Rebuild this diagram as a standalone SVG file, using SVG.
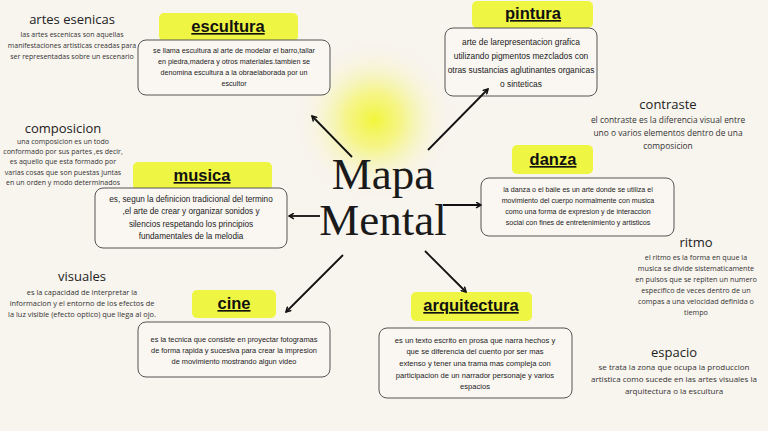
<svg xmlns="http://www.w3.org/2000/svg" width="768" height="431" viewBox="0 0 768 431">
<defs>
<radialGradient id="glow" cx="0.5" cy="0.5" r="0.5">
<stop offset="0" stop-color="#f3f53a" stop-opacity="1"/>
<stop offset="0.35" stop-color="#f4f56a" stop-opacity="0.75"/>
<stop offset="0.7" stop-color="#f6f5b0" stop-opacity="0.3"/>
<stop offset="1" stop-color="#f8f4ee" stop-opacity="0"/>
</radialGradient>
<marker id="ah" viewBox="0 0 10 10" refX="8" refY="5" markerWidth="7" markerHeight="7" orient="auto" markerUnits="userSpaceOnUse">
<path d="M1,1 L8,5 L1,9" fill="none" stroke="#111" stroke-width="2.2" stroke-linejoin="miter"/>
</marker>
</defs>
<style>
.lab{fill:#eff543}
.box{fill:#faf7f3;stroke:#555;stroke-width:1}
.lt{font-family:"Liberation Sans",Arial,sans-serif;font-weight:bold;font-size:16.5px;fill:#111;text-anchor:middle;text-decoration:underline}
.bt{font-family:"Liberation Sans",Arial,sans-serif;fill:#1a1a1a;text-anchor:middle}
.ht{font-family:"Open Sans",sans-serif;font-size:13px;fill:#222;text-anchor:middle}
.ft{font-family:"Open Sans",sans-serif;fill:#333;text-anchor:middle}
.con{stroke:#111;stroke-width:1.8;fill:none}
</style>
<rect width="768" height="431" fill="#f8f4ee"/>
<circle cx="374" cy="120" r="80" fill="url(#glow)"/>

<g id="title">
<text x="383" y="189" font-family="'Liberation Serif','Times New Roman',serif" font-size="45" fill="#1a1a1a" text-anchor="middle">Mapa</text>
<text x="383" y="235" font-family="'Liberation Serif','Times New Roman',serif" font-size="45" fill="#1a1a1a" text-anchor="middle">Mental</text>
</g>

<g id="escultura">
<rect class="lab" x="159" y="13" width="139" height="28" rx="5"/>
<text class="lt" x="228" y="32">escultura</text>
<rect class="box" x="138" y="40" width="192" height="55" rx="8"/>
<text class="bt" font-size="7.2" x="234" y="53">se llama escultura al arte de modelar el barro,tallar</text>
<text class="bt" font-size="7.2" x="234" y="64">en piedra,madera y otros materiales.tambien se</text>
<text class="bt" font-size="7.2" x="234" y="75">denomina escultura a la obraelaborada por un</text>
<text class="bt" font-size="7.2" x="234" y="86">escultor</text>
</g>

<g id="pintura">
<rect class="lab" x="472" y="1" width="121" height="27" rx="5"/>
<text class="lt" x="533" y="19">pintura</text>
<rect class="box" x="445" y="28" width="152" height="68" rx="8"/>
<text class="bt" font-size="8.4" x="521" y="45">arte de larepresentacion grafica</text>
<text class="bt" font-size="8.4" x="521" y="59">utilizando pigmentos mezclados con</text>
<text class="bt" font-size="8.4" x="521" y="73">otras sustancias aglutinantes organicas</text>
<text class="bt" font-size="8.4" x="521" y="87">o sinteticas</text>
</g>

<g id="musica">
<rect class="lab" x="133" y="162" width="139" height="28" rx="5"/>
<text class="lt" x="202" y="181">musica</text>
<rect class="box" x="95" y="188" width="192" height="60" rx="8"/>
<text class="bt" font-size="8.2" x="191" y="202">es, segun la definicion tradicional del termino</text>
<text class="bt" font-size="8.2" x="191" y="214">,el arte de crear y organizar sonidos y</text>
<text class="bt" font-size="8.2" x="191" y="227">silencios respetando los principios</text>
<text class="bt" font-size="8.2" x="191" y="239">fundamentales de la melodia</text>
</g>

<g id="danza">
<rect class="lab" x="512" y="145" width="81" height="29" rx="5"/>
<text class="lt" x="553" y="165">danza</text>
<rect class="box" x="481" y="178" width="193" height="58" rx="8"/>
<text class="bt" font-size="7.1" x="578" y="192">la danza o el baile es un arte donde se utiliza el</text>
<text class="bt" font-size="7.1" x="578" y="203">movimiento del cuerpo normalmente con musica</text>
<text class="bt" font-size="7.1" x="578" y="214">como una forma de expresion y de interaccion</text>
<text class="bt" font-size="7.1" x="578" y="225">social con fines de entretenimiento y artisticos</text>
</g>

<g id="cine">
<rect class="lab" x="192" y="290" width="84" height="28" rx="5"/>
<text class="lt" x="234" y="309">cine</text>
<rect class="box" x="138" y="322" width="192" height="55" rx="8"/>
<text class="bt" font-size="7.4" x="234" y="342">es la tecnica que consiste en proyectar fotogramas</text>
<text class="bt" font-size="7.4" x="234" y="353">de forma rapida y sucesiva para crear la impresion</text>
<text class="bt" font-size="7.4" x="234" y="364">de movimiento mostrando algun video</text>
</g>

<g id="arquitectura">
<rect class="lab" x="411" y="292" width="121" height="29" rx="5"/>
<text class="lt" x="471" y="311">arquitectura</text>
<rect class="box" x="379" y="328" width="193" height="70" rx="8"/>
<text class="bt" font-size="7.6" x="475" y="343">es un texto escrito en prosa que narra hechos y</text>
<text class="bt" font-size="7.6" x="475" y="354">que se diferencia del cuento por ser mas</text>
<text class="bt" font-size="7.6" x="475" y="366">extenso y tener una trama mas compleja con</text>
<text class="bt" font-size="7.6" x="475" y="378">participacion de un narrador personaje y varios</text>
<text class="bt" font-size="7.6" x="475" y="389">espacios</text>
</g>

<g id="artes-esenicas">
<text class="ht" x="72" y="24">artes esenicas</text>
<text class="ft" font-size="7" x="72" y="37">las artes escenicas son aquellas</text>
<text class="ft" font-size="7" x="72" y="48">manifestaciones artisticas creadas para</text>
<text class="ft" font-size="7" x="72" y="59">ser representadas sobre un escenario</text>
</g>

<g id="composicion">
<text class="ht" x="63" y="133">composicion</text>
<text class="ft" font-size="7" x="63" y="144">una composicion es un todo</text>
<text class="ft" font-size="7" x="63" y="154">conformado por sus partes ,es decir,</text>
<text class="ft" font-size="7" x="63" y="164">es aquello que esta formado por</text>
<text class="ft" font-size="7" x="63" y="175">varias cosas que son puestas juntas</text>
<text class="ft" font-size="7" x="63" y="185">en un orden y modo determinados</text>
</g>

<g id="contraste">
<text class="ht" x="668" y="109">contraste</text>
<text class="ft" font-size="8.4" x="668" y="123">el contraste es la diferencia visual entre</text>
<text class="ft" font-size="8.4" x="668" y="136">uno o varios elementos dentro de una</text>
<text class="ft" font-size="8.4" x="668" y="149">composicion</text>
</g>

<g id="ritmo">
<text class="ht" x="696" y="247">ritmo</text>
<text class="ft" font-size="7.2" x="696" y="260">el ritmo es la forma en quue la</text>
<text class="ft" font-size="7.2" x="696" y="271">musica se divide sistematicamente</text>
<text class="ft" font-size="7.2" x="696" y="282">en pulsos que se repiten un numero</text>
<text class="ft" font-size="7.2" x="696" y="293">especifico de veces dentro de un</text>
<text class="ft" font-size="7.2" x="696" y="304">compas a una velocidad definida o</text>
<text class="ft" font-size="7.2" x="696" y="315">tiempo</text>
</g>

<g id="visuales">
<text class="ht" x="82" y="281">visuales</text>
<text class="ft" font-size="7.4" x="82" y="295">es la capacidad de interpretar la</text>
<text class="ft" font-size="7.4" x="82" y="306">informacion y el entorno de los efectos de</text>
<text class="ft" font-size="7.4" x="82" y="317">la luz visible (efecto optico) que llega al ojo.</text>
</g>

<g id="espacio">
<text class="ht" x="674" y="357">espacio</text>
<text class="ft" font-size="8" x="674" y="370">se trata la zona que ocupa la produccion</text>
<text class="ft" font-size="8" x="674" y="382">artistica como sucede en las artes visuales la</text>
<text class="ft" font-size="8" x="674" y="394">arquitectura o la escultura</text>
</g>

<g id="connectors">
<line class="con" x1="352" y1="157" x2="312" y2="116" marker-end="url(#ah)"/>
<line class="con" x1="428" y1="150" x2="488" y2="89" marker-end="url(#ah)"/>
<line class="con" x1="320" y1="216" x2="289" y2="216" marker-end="url(#ah)"/>
<line class="con" x1="443" y1="205" x2="481" y2="205" marker-end="url(#ah)"/>
<line class="con" x1="343" y1="255" x2="286" y2="312" marker-end="url(#ah)"/>
<line class="con" x1="425" y1="251" x2="466" y2="292" marker-end="url(#ah)"/>
</g>
</svg>
